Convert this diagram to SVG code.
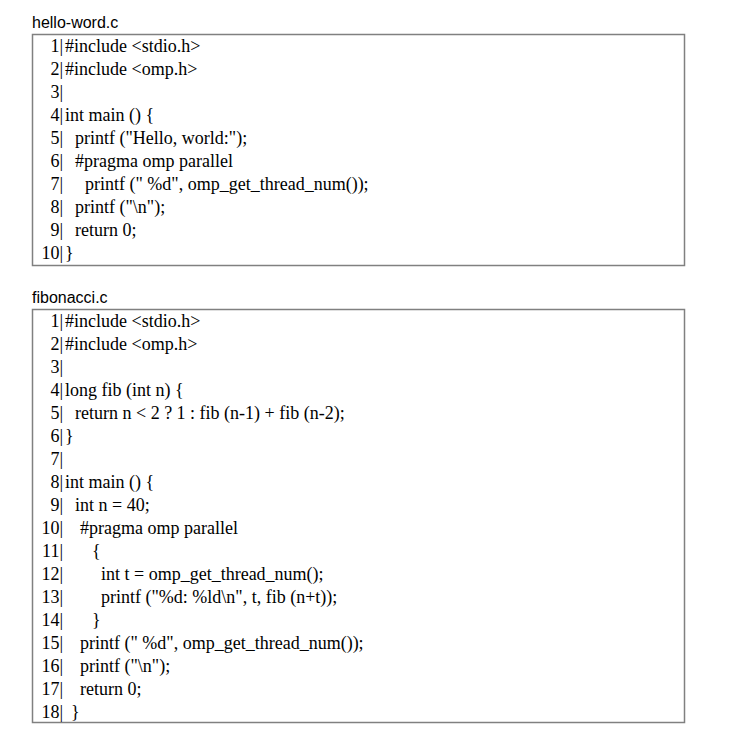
<svg xmlns="http://www.w3.org/2000/svg" width="754" height="732" viewBox="0 0 754 732">
<style>
.t{font-family:"Liberation Sans",Arial,sans-serif;font-size:16px;fill:#000}
.c{font-family:"Liberation Serif","Times New Roman",serif;font-size:18px;fill:#000}
.n{font-family:"Liberation Serif","Times New Roman",serif;font-size:18px;fill:#000;text-anchor:end}
.b{fill:#fff;stroke:#808080;stroke-width:1.5}
</style>
<rect width="754" height="732" fill="#fff"/>
<g id="hello">
<text class="t" x="32" y="28">hello-word.c</text>
<rect class="b" x="32.5" y="34.5" width="652" height="231"/>
<g class="n">
<text x="63" y="52">1|</text><text x="63" y="75">2|</text><text x="63" y="98">3|</text><text x="63" y="121">4|</text><text x="63" y="144">5|</text><text x="63" y="167">6|</text><text x="63" y="190">7|</text><text x="63" y="213">8|</text><text x="63" y="236">9|</text><text x="63" y="259">10|</text>
</g>
<g class="c">
<text x="65" y="52">#include &lt;stdio.h&gt;</text>
<text x="65" y="75">#include &lt;omp.h&gt;</text>
<text x="65" y="121">int main () {</text>
<text x="75" y="144">printf ("Hello, world:");</text>
<text x="75" y="167">#pragma omp parallel</text>
<text x="85" y="190">printf (" %d", omp_get_thread_num());</text>
<text x="75" y="213">printf ("\n");</text>
<text x="75" y="236">return 0;</text>
<text x="65" y="259">}</text>
</g>
</g>
<g id="fib">
<text class="t" x="32" y="303">fibonacci.c</text>
<rect class="b" x="32.5" y="309.5" width="652" height="413"/>
<g class="n">
<text x="63" y="327">1|</text><text x="63" y="350">2|</text><text x="63" y="373">3|</text><text x="63" y="396">4|</text><text x="63" y="419">5|</text><text x="63" y="442">6|</text><text x="63" y="465">7|</text><text x="63" y="488">8|</text><text x="63" y="511">9|</text><text x="63" y="534">10|</text><text x="63" y="557">11|</text><text x="63" y="580">12|</text><text x="63" y="603">13|</text><text x="63" y="626">14|</text><text x="63" y="649">15|</text><text x="63" y="672">16|</text><text x="63" y="695">17|</text><text x="63" y="718">18|</text>
</g>
<g class="c">
<text x="65" y="327">#include &lt;stdio.h&gt;</text>
<text x="65" y="350">#include &lt;omp.h&gt;</text>
<text x="65" y="396">long fib (int n) {</text>
<text x="75" y="419">return n &lt; 2 ? 1 : fib (n-1) + fib (n-2);</text>
<text x="65" y="442">}</text>
<text x="65" y="488">int main () {</text>
<text x="75" y="511">int n = 40;</text>
<text x="80" y="534">#pragma omp parallel</text>
<text x="92" y="557">{</text>
<text x="101" y="580">int t = omp_get_thread_num();</text>
<text x="101" y="603">printf ("%d: %ld\n", t, fib (n+t));</text>
<text x="92" y="626">}</text>
<text x="80" y="649">printf (" %d", omp_get_thread_num());</text>
<text x="80" y="672">printf ("\n");</text>
<text x="80" y="695">return 0;</text>
<text x="71" y="718">}</text>
</g>
</g>
</svg>
